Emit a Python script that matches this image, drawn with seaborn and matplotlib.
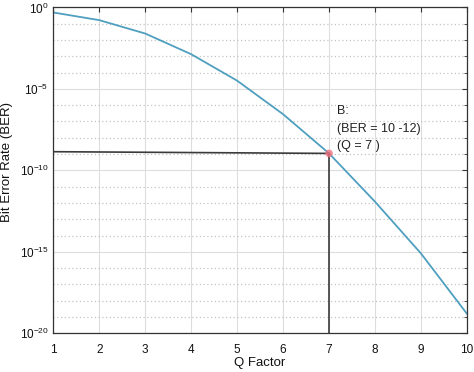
import matplotlib
matplotlib.use('Agg')
import matplotlib.pyplot as plt
import matplotlib.ticker as mticker
import numpy as np
import pandas as pd
import seaborn as sns

# Data
q_factor = [1, 2, 3, 4, 5, 6, 7, 8, 9, 10]
ber = [4.9e-1, 1.66e-1, 2.5e-2, 1.35e-3, 3.2e-5, 2.8e-7, 1.1e-9, 1.2e-12, 8.0e-16, 1.6e-19]

ref_x = [1, 7]
ref_y = [1.4e-9, 1.1e-9]
point_q = 7
point_ber = 1.1e-9
note = "B:\n(BER = 10 -12)\n(Q = 7 )"

df = pd.DataFrame({"Q": q_factor, "BER": ber})

sns.set_style("white")
plt.rcParams['font.family'] = ['Liberation Sans', 'DejaVu Sans']
plt.rcParams['mathtext.default'] = 'regular'

fig = plt.figure(figsize=(4.74, 3.72), dpi=100)
ax = fig.add_axes([0.1125, 0.104, 0.8725, 0.876])

ax.set_yscale('log')
ax.set_xlim(1, 10)
ax.set_ylim(1e-20, 1e0)

# grid like MATLAB: solid majors, dotted minors
ax.yaxis.set_major_locator(mticker.FixedLocator([1e-20, 1e-15, 1e-10, 1e-5, 1e0]))
ax.yaxis.set_minor_locator(mticker.FixedLocator([10.0 ** k for k in range(-20, 1) if k % 5 != 0]))
ax.yaxis.set_minor_formatter(mticker.NullFormatter())
ax.xaxis.set_major_locator(mticker.MultipleLocator(1))
ax.grid(which='major', color='#dddddd', linewidth=0.8, linestyle='-')
ax.grid(which='minor', axis='y', color='#c4c4c4', linewidth=0.9, linestyle=(0, (1, 2)))
ax.set_axisbelow(True)

sns.lineplot(data=df, x="Q", y="BER", ax=ax, color='#4f9fc0', linewidth=1.3)

ax.plot(ref_x, ref_y, color='#3a3a3a', linewidth=1.2)
ax.plot([point_q, point_q], [1e-20, point_ber], color='#3a3a3a', linewidth=1.2)
sns.scatterplot(x=[point_q], y=[point_ber], ax=ax, color='#f07080', s=30,
                edgecolor='none', alpha=0.8, zorder=5)

ax.text(7.17, 10 ** -6.0, note, fontsize=9, color='#222222', va='top', ha='left',
        linespacing=1.6)

for side in ['top', 'right', 'left', 'bottom']:
    ax.spines[side].set_color('#333333')
    ax.spines[side].set_linewidth(0.9)

ax.tick_params(which='both', direction='in', top=True, right=True, colors='#333333',
               labelcolor='#111111', labelsize=8.5)
ax.tick_params(which='major', length=3.5)
ax.tick_params(which='minor', length=2.5, left=False)
ax.tick_params(axis='x', pad=8)

ax.set_xlabel("Q Factor", fontsize=9.5, color='#111111')
ax.set_ylabel("Bit Error Rate (BER)", fontsize=9.5, color='#111111')
ax.xaxis.set_label_coords(0.5, -0.072)
ax.yaxis.set_label_coords(-0.097, 0.525)

plt.savefig("out.png", dpi=100)
plt.close()
